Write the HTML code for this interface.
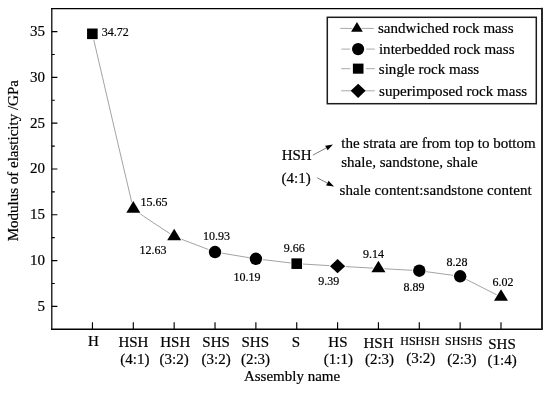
<!DOCTYPE html><html><head><meta charset="utf-8"><title>Modulus of elasticity</title>
<style>html,body{margin:0;padding:0;background:#fff}svg{display:block}text{font-family:"Liberation Serif","Times New Roman",serif;fill:#000;stroke:#000;stroke-width:0.2px}</style></head><body>
<svg width="550" height="393" viewBox="0 0 550 393">
<rect x="0" y="0" width="550" height="393" fill="#fff"/>
<path d="M92.36 33.81 C106.01 92.14 119.66 151.45 133.31 208.80 M133.31 208.80 C146.93 219.00 160.55 227.32 174.17 236.46 M174.17 236.46 C187.79 241.73 201.40 246.90 215.02 252.03 M215.02 252.03 C228.64 254.35 242.26 256.56 255.88 258.81 M255.88 258.81 C269.49 260.44 283.11 262.06 296.73 263.66 M296.73 263.66 C310.35 264.50 323.97 265.31 337.58 266.14 M337.58 266.14 C351.20 266.90 364.82 267.66 378.44 268.43 M378.44 268.43 C392.06 269.19 405.67 269.93 419.29 270.72 M419.29 270.72 C432.91 272.56 446.53 274.34 460.15 276.31 M460.15 276.31 C473.76 283.10 487.38 290.11 501.00 297.01" fill="none" stroke="#8c8c8c" stroke-width="0.8"/>
<rect x="86.16" y="27.61" width="12.40" height="12.40" fill="#fff"/><rect x="87.06" y="28.51" width="10.60" height="10.60" fill="#000"/>
<polygon points="124.71,213.56 133.31,199.16 141.91,213.56" fill="#fff"/><polygon points="126.31,212.66 133.31,201.06 140.31,212.66" fill="#000"/>
<polygon points="165.57,241.23 174.17,226.83 182.77,241.23" fill="#fff"/><polygon points="167.17,240.33 174.17,228.73 181.17,240.33" fill="#000"/>
<circle cx="215.02" cy="252.03" r="7.10" fill="#fff"/><circle cx="215.02" cy="252.03" r="6.20" fill="#000"/>
<circle cx="255.88" cy="258.81" r="7.10" fill="#fff"/><circle cx="255.88" cy="258.81" r="6.20" fill="#000"/>
<rect x="290.53" y="257.46" width="12.40" height="12.40" fill="#fff"/><rect x="291.43" y="258.36" width="10.60" height="10.60" fill="#000"/>
<polygon points="328.78,266.14 337.58,257.84 346.38,266.14 337.58,274.44" fill="#fff"/><polygon points="329.98,266.14 337.58,259.04 345.18,266.14 337.58,273.24" fill="#000"/>
<polygon points="369.84,273.19 378.44,258.79 387.04,273.19" fill="#fff"/><polygon points="371.44,272.29 378.44,260.69 385.44,272.29" fill="#000"/>
<circle cx="419.29" cy="270.72" r="7.10" fill="#fff"/><circle cx="419.29" cy="270.72" r="6.20" fill="#000"/>
<circle cx="460.15" cy="276.31" r="7.10" fill="#fff"/><circle cx="460.15" cy="276.31" r="6.20" fill="#000"/>
<polygon points="492.40,301.77 501.00,287.37 509.60,301.77" fill="#fff"/><polygon points="494.00,300.87 501.00,289.27 508.00,300.87" fill="#000"/>
<path d="M542.00 329.25V8.65H51.80" fill="none" stroke="#000" stroke-width="1.35" stroke-linecap="square"/>
<path d="M51.80 8.65V329.25" fill="none" stroke="#000" stroke-width="1.25" stroke-linecap="square"/>
<path d="M51.80 329.25H542.00" fill="none" stroke="#000" stroke-width="1.5" stroke-linecap="square"/>
<path d="M542.00 8.65V329.25" fill="none" stroke="#222" stroke-width="1.7" stroke-linecap="square"/>
<path d="M51.80 306.35h5.6 M51.80 260.55h5.6 M51.80 214.75h5.6 M51.80 168.95h5.6 M51.80 123.15h5.6 M51.80 77.35h5.6 M51.80 31.55h5.6 M51.80 283.45h3.0 M51.80 237.65h3.0 M51.80 191.85h3.0 M51.80 146.05h3.0 M51.80 100.25h3.0 M51.80 54.45h3.0 M92.46 329.25v-7.1 M133.31 329.25v-7.1 M174.17 329.25v-7.1 M215.02 329.25v-7.1 M255.88 329.25v-7.1 M296.73 329.25v-7.1 M337.58 329.25v-7.1 M378.44 329.25v-7.1 M419.29 329.25v-7.1 M460.15 329.25v-7.1 M501.00 329.25v-7.1" fill="none" stroke="#000" stroke-width="1.15"/>
<text x="45.1" y="310.75" font-size="15" text-anchor="end">5</text>
<text x="45.1" y="264.95" font-size="15" text-anchor="end">10</text>
<text x="45.1" y="219.15" font-size="15" text-anchor="end">15</text>
<text x="45.1" y="173.35" font-size="15" text-anchor="end">20</text>
<text x="45.1" y="127.55" font-size="15" text-anchor="end">25</text>
<text x="45.1" y="81.75" font-size="15" text-anchor="end">30</text>
<text x="45.1" y="35.95" font-size="15" text-anchor="end">35</text>
<text transform="translate(18.0 160.7) rotate(-90)" font-size="15" text-anchor="middle">Modulus of elasticity /GPa</text>
<text x="292.0" y="381.3" font-size="15" text-anchor="middle">Assembly name</text>
<text x="93.5" y="345.9" font-size="15" text-anchor="middle">H</text>
<text x="133.4" y="347.4" font-size="15" text-anchor="middle">HSH</text>
<text x="134.9" y="364.4" font-size="15" text-anchor="middle">(4:1)</text>
<text x="175.3" y="347.4" font-size="15" text-anchor="middle">HSH</text>
<text x="174.2" y="364.4" font-size="15" text-anchor="middle">(3:2)</text>
<text x="216.1" y="347.4" font-size="15" text-anchor="middle">SHS</text>
<text x="216.1" y="364.4" font-size="15" text-anchor="middle">(3:2)</text>
<text x="255.3" y="347.4" font-size="15" text-anchor="middle">SHS</text>
<text x="255.5" y="364.4" font-size="15" text-anchor="middle">(2:3)</text>
<text x="295.9" y="347.4" font-size="15" text-anchor="middle">S</text>
<text x="337.9" y="347.4" font-size="15" text-anchor="middle">HS</text>
<text x="338.4" y="364.4" font-size="15" text-anchor="middle">(1:1)</text>
<text x="378.5" y="347.9" font-size="15" text-anchor="middle">HSH</text>
<text x="379.5" y="364.4" font-size="15" text-anchor="middle">(2:3)</text>
<text x="419.9" y="345.4" font-size="12" text-anchor="middle">HSHSH</text>
<text x="420.8" y="363.4" font-size="15" text-anchor="middle">(3:2)</text>
<text x="463.8" y="344.8" font-size="12" text-anchor="middle">SHSHS</text>
<text x="461.9" y="364.4" font-size="15" text-anchor="middle">(2:3)</text>
<text x="502.0" y="349.2" font-size="15" text-anchor="middle">SHS</text>
<text x="502.2" y="365.2" font-size="15" text-anchor="middle">(1:4)</text>
<text x="101.7" y="35.8" font-size="12" stroke-width="0.15">34.72</text>
<text x="140.6" y="206.2" font-size="12" stroke-width="0.15">15.65</text>
<text x="139.6" y="253.8" font-size="12" stroke-width="0.15">12.63</text>
<text x="203.0" y="239.8" font-size="12" stroke-width="0.15">10.93</text>
<text x="233.6" y="281.1" font-size="12" stroke-width="0.15">10.19</text>
<text x="283.8" y="252.3" font-size="12" stroke-width="0.15">9.66</text>
<text x="318.2" y="284.9" font-size="12" stroke-width="0.15">9.39</text>
<text x="362.9" y="258.2" font-size="12" stroke-width="0.15">9.14</text>
<text x="403.6" y="290.7" font-size="12" stroke-width="0.15">8.89</text>
<text x="446.4" y="265.8" font-size="12" stroke-width="0.15">8.28</text>
<text x="492.4" y="286.4" font-size="12" stroke-width="0.15">6.02</text>
<rect x="327.3" y="17.3" width="209.0" height="86.4" fill="#fff" stroke="#1c1c1c" stroke-width="1.5"/>
<path d="M340.2 28.4H373.9" stroke="#a8a8a8" stroke-width="1" fill="none"/>
<polygon points="349.9,33 356.9,20 363.9,33" fill="#fff"/>
<polygon points="351.1,31.8 356.95,22.0 362.8,31.8" fill="#000"/>
<text x="378.0" y="33.1" font-size="15" textLength="135.5">sandwiched rock mass</text>
<path d="M341.5 49.1H374.8" stroke="#a8a8a8" stroke-width="1" fill="none"/>
<circle cx="358.1" cy="49.1" r="8.2" fill="#fff"/><circle cx="358.1" cy="49.1" r="6.1" fill="#000"/>
<text x="378.9" y="53.9" font-size="15" textLength="135.6">interbedded rock mass</text>
<path d="M341.2 68.7H374.8" stroke="#a8a8a8" stroke-width="1" fill="none"/>
<rect x="350.4" y="61" width="15.4" height="15" fill="#fff"/><rect x="352.9" y="63.6" width="10.6" height="10.1" fill="#000"/>
<text x="378.8" y="73.6" font-size="15" textLength="100.4">single rock mass</text>
<path d="M341.2 90.8H374.8" stroke="#a8a8a8" stroke-width="1" fill="none"/>
<polygon points="350.7,90.85 358.15,83.7 365.6,90.85 358.15,98" fill="#000"/>
<text x="379.1" y="95.8" font-size="15" textLength="148.0">superimposed rock mass</text>
<text x="281.7" y="160.35" font-size="15">HSH</text>
<text x="281.5" y="182.85" font-size="15">(4:1)</text>
<text x="341.2" y="148.1" font-size="15" textLength="194.5">the strata are from top to bottom</text>
<text x="341.2" y="167.1" font-size="15" textLength="136.5">shale, sandstone, shale</text>
<text x="339.6" y="194.5" font-size="15" textLength="192.1">shale content:sandstone content</text>
<path d="M312.90 155.10L326.38 147.92" stroke="#555" stroke-width="0.75" fill="none"/><polygon points="333.00,144.40 327.60,150.22 325.16,145.63" fill="#000"/>
<path d="M317.20 177.80L327.36 183.12" stroke="#555" stroke-width="0.75" fill="none"/><polygon points="334.00,186.60 326.15,185.42 328.56,180.82" fill="#000"/>
</svg></body></html>
